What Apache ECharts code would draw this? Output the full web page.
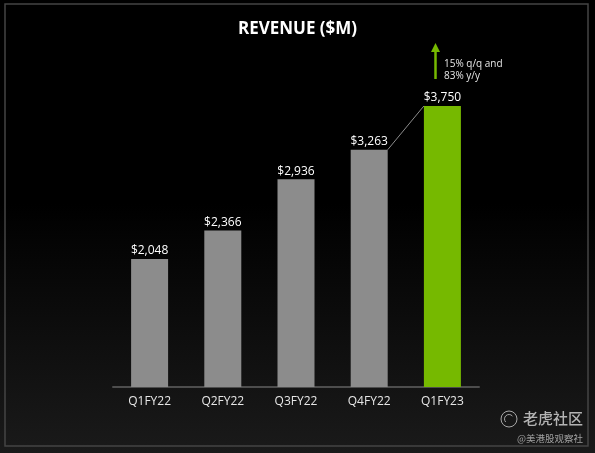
<!DOCTYPE html>
<html>
<head>
<meta charset="utf-8">
<style>html,body{margin:0;padding:0;background:#000}#c{width:595px;height:453px}</style>
<script src="https://cdn.jsdelivr.net/npm/echarts@6/dist/echarts.min.js"></script>
</head>
<body>
<div id="c"></div>
<script>
const categories = ['Q1FY22', 'Q2FY22', 'Q3FY22', 'Q4FY22', 'Q1FY23'];
const revenue = [2048, 2366, 2936, 3263, 3750];
const valueLabels = ['$2,048', '$2,366', '$2,936', '$3,263', '$3,750'];
const growthNote = ['15% q/q and', '83% y/y'];

const font = '"Open Sans", "Noto Sans", sans-serif';
const chart = echarts.init(document.getElementById('c'), null, { renderer: 'canvas' });

chart.setOption({
  animation: false,
  backgroundColor: {
    type: 'linear', x: 0, y: 0, x2: 0, y2: 1,
    colorStops: [
      { offset: 0, color: '#000000' },
      { offset: 0.45, color: '#000000' },
      { offset: 1, color: '#1a1a1a' }
    ]
  },
  title: {
    text: 'REVENUE ($M)', left: 'center', top: 16,
    textStyle: { color: '#fff', fontFamily: font, fontSize: 17, fontWeight: 'bold' }
  },
  grid: { left: 113, right: 116, top: 30, bottom: 66 },
  xAxis: {
    type: 'category', data: categories,
    axisLine: { lineStyle: { color: '#4d4d4d', width: 2 } },
    axisTick: { show: false },
    axisLabel: { color: '#e6e6e6', fontFamily: font, fontSize: 12, margin: 9 }
  },
  // Truncated value axis: the bars start well above zero
  yAxis: { type: 'value', min: 624, max: 4595, show: false, splitLine: { show: false } },
  series: [
    {
      type: 'bar', data: revenue.map((v, i) => ({
        value: v,
        itemStyle: { color: i === revenue.length - 1 ? '#76b900' : '#8c8c8c' }
      })),
      barWidth: 37,
      label: {
        show: true, position: 'top', distance: 2, color: '#fff', fontFamily: font, fontSize: 12,
        formatter: p => valueLabels[p.dataIndex]
      }
    },
    {
      // Thin connector between the tops of the last two bars
      type: 'custom', silent: true, z: 3, data: [[3, revenue[3], 4, revenue[4]]],
      encode: { x: [0, 2], y: [1, 3] },
      renderItem(params, api) {
        const a = api.coord([api.value(0), api.value(1)]);
        const b = api.coord([api.value(2), api.value(3)]);
        const half = 18.5;
        return {
          type: 'line',
          shape: { x1: a[0] + half, y1: a[1], x2: b[0] - half, y2: b[1] },
          style: { stroke: '#8c8c8c', lineWidth: 1 }
        };
      }
    }
  ],
  graphic: [
    { type: 'rect', silent: true, shape: { x: 5, y: 4, width: 583, height: 442 },
      style: { fill: 'none', stroke: '#444444', lineWidth: 1.5 } },
    { type: 'line', shape: { x1: 435.5, y1: 79, x2: 435.5, y2: 50 }, style: { stroke: '#76b900', lineWidth: 2.5 } },
    { type: 'polygon', shape: { points: [[431, 52], [440, 52], [435.5, 43]] }, style: { fill: '#76b900' } },
    { type: 'text', x: 444, y: 58, style: { text: growthNote.join('\n'), fill: '#e6e6e6', font: '10px ' + font, lineHeight: 12 } },
    { type: 'text', x: 583, y: 411, style: { text: '老虎社区', fill: '#b4b4b4', font: '500 15px "Noto Sans CJK SC"', align: 'right' } },
    { type: 'text', x: 583, y: 434, style: { text: '@美港股观察社', fill: '#a0a0a0', font: '9.5px "Noto Sans CJK SC"', align: 'right' } },
    { type: 'circle', shape: { cx: 509, cy: 419, r: 8 }, style: { fill: 'none', stroke: '#a8a8a8', lineWidth: 1 } },
    { type: 'arc', shape: { cx: 509, cy: 419, r: 4.5, startAngle: 2.4, endAngle: 5.6 }, style: { fill: 'none', stroke: '#a8a8a8', lineWidth: 1 } }
  ]
});
</script>
</body>
</html>
